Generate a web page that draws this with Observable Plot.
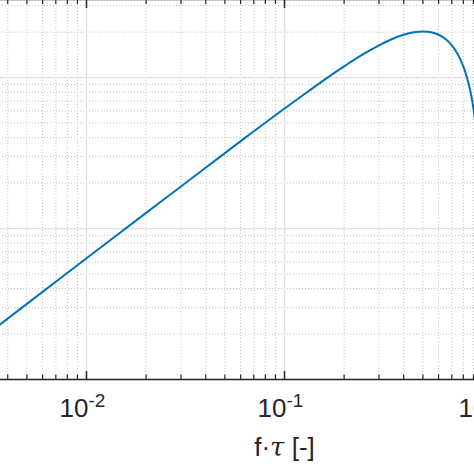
<!DOCTYPE html>
<html>
<head>
<meta charset="utf-8">
<script src="https://cdn.jsdelivr.net/npm/d3@7"></script>
<script src="https://cdn.jsdelivr.net/npm/@observablehq/plot@0.6"></script>
<style>
  html, body { margin: 0; padding: 0; background: #fff; }
  #wrap { position: relative; width: 474px; height: 474px; overflow: hidden; background: #fff; }
  #wrap svg { position: absolute; left: -112px; top: -11px; max-width: none !important; width: 792px !important; height: 485px !important; }
</style>
</head>
<body>
<div id="wrap"></div>
<script>
// ---- data ----
const fTau = [0.002, 0.003, 0.005, 0.01, 0.02, 0.03, 0.05, 0.07, 0.1, 0.13, 0.16, 0.2, 0.25, 0.3, 0.35,
  0.4, 0.45, 0.5, 0.55, 0.6, 0.65, 0.7, 0.75, 0.8, 0.85, 0.88, 0.9, 0.92, 0.94, 0.96, 0.98, 0.99, 0.995];
const amplitude = [0.0127, 0.0190, 0.0317, 0.0635, 0.127, 0.190, 0.316, 0.441, 0.624, 0.800, 0.973, 1.187, 1.428, 1.634, 1.800,
  1.921, 1.995, 2.02, 1.995, 1.921, 1.800, 1.634, 1.428, 1.187, 0.917, 0.744, 0.624, 0.502, 0.379, 0.253, 0.127, 0.0635, 0.0317];

const xMajor = [1e-3, 1e-2, 1e-1, 1, 10];
const tickBase = "10";
const tickExp = ["-3", "-2", "-1", "0", "1"];
const yMajor = [1e-2, 1e-1, 1];
const xLabel = "f·τ [-]";

// ---- derived tables ----
const series = fTau.map((f, i) => ({f, a: amplitude[i]}));
const mult = [2, 3, 4, 5, 6, 7, 8, 9];
const xMinor = xMajor.slice(0, -1).flatMap(d => mult.map(m => m * d));
const yMinor = yMajor.flatMap(d => mult.map(m => m * d)).filter(v => v < 3.29);
const labels = xMajor.map((v, i) => ({v, e: tickExp[i]}));
const labMinus = labels.filter(d => d.e.startsWith("-"));
const labPlain = labels.filter(d => !d.e.startsWith("-"));

const H = 380;
const font = "'Liberation Sans', Arial, Helvetica, sans-serif";
const ink = "#262626";

const chart = Plot.plot({
  width: 792,
  height: 10 + H + 95,
  marginLeft: 0, marginRight: 0, marginTop: 10, marginBottom: 95,
  style: {fontFamily: font, background: "white", overflow: "visible"},
  x: {type: "log", domain: [1e-3, 10], axis: null},
  y: {type: "log", domain: [0.01, 3.29], axis: null},
  marks: [
    Plot.ruleX(xMinor, {stroke: "#c4c4c4", strokeWidth: 1, strokeDasharray: "1,2"}),
    Plot.ruleY(yMinor, {stroke: "#c4c4c4", strokeWidth: 1, strokeDasharray: "1,2"}),
    Plot.ruleX(xMajor, {stroke: "#dedede", strokeWidth: 1.3}),
    Plot.ruleY(yMajor, {stroke: "#dedede", strokeWidth: 1.3}),
    Plot.line(series, {x: "f", y: "a", stroke: "#0072BD", strokeWidth: 2, curve: "catmull-rom", clip: true}),
    Plot.tickX(xMinor, {x: d => d, stroke: ink, strokeWidth: 1.2, insetTop: H - 4.5}),
    Plot.tickX(xMajor, {x: d => d, stroke: ink, strokeWidth: 1.5, insetTop: H - 8}),
    Plot.tickX(xMinor, {x: d => d, stroke: ink, strokeWidth: 1.2, insetBottom: H - 5}),
    Plot.tickX(xMajor, {x: d => d, stroke: ink, strokeWidth: 1.5, insetBottom: H - 9}),
    Plot.frame({stroke: ink, strokeWidth: 1.5}),
    Plot.text(labMinus, {x: "v", text: () => tickBase, frameAnchor: "bottom", textAnchor: "end", dx: 2, dy: 37.7, fontSize: 26, fill: ink}),
    Plot.text(labMinus, {x: "v", text: "e", frameAnchor: "bottom", textAnchor: "start", dx: 2, dy: 27, fontSize: 19, fill: ink}),
    Plot.text(labPlain, {x: "v", text: () => tickBase, frameAnchor: "bottom", textAnchor: "end", dx: 5, dy: 37.7, fontSize: 26, fill: ink}),
    Plot.text(labPlain, {x: "v", text: "e", frameAnchor: "bottom", textAnchor: "start", dx: 5, dy: 27, fontSize: 19, fill: ink}),
    Plot.text([xLabel], {text: d => d, frameAnchor: "bottom", dy: 76, fontSize: 26, fill: ink})
  ]
});
document.getElementById("wrap").appendChild(chart);

// italic tau in the axis label (as TeX does)
d3.select(chart).selectAll("text").each(function() {
  if (this.textContent === xLabel) {
    const t = d3.select(this);
    t.text(null);
    t.append("tspan").text("f·");
    t.append("tspan").attr("font-style", "italic").attr("font-family", "'DejaVu Serif', serif").text("τ");
    t.append("tspan").text(" [-]");
  }
});
</script>
</body>
</html>
